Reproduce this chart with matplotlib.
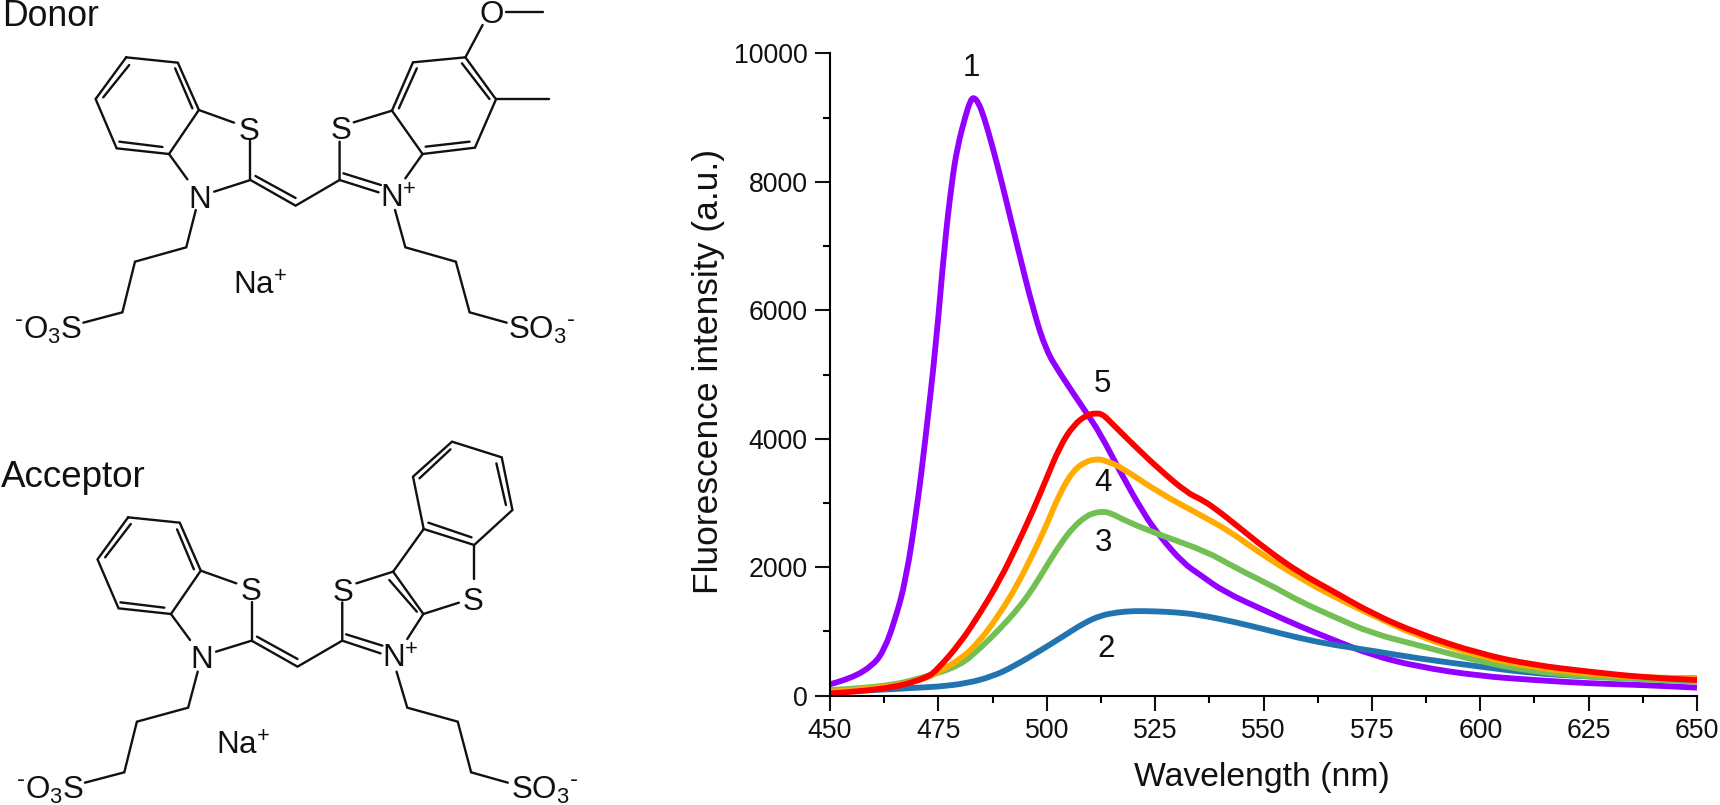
# -*- coding: utf-8 -*-
"""
Fluorescence spectra of the donor/acceptor mixes, with the two dye structures
"""
import numpy as np
import matplotlib
matplotlib.use("Agg")
import matplotlib.pyplot as plt
import matplotlib.ticker as ticker
from matplotlib.path import Path
from matplotlib.patches import PathPatch

plt.rcParams['font.family'] = ['Liberation Sans', 'DejaVu Sans']
plt.rcParams['mathtext.default'] = 'regular'

W, H = 1720, 805
# the structure crops came out squeezed in x
SX, SY = 2.615, 3.0

# spectra: (wavelength, intensity)
wl_1 = [450, 455, 460, 462.5, 465, 467.5, 470, 472, 474.5, 476.4, 478.1, 479.4, 481.2, 482.3, 483.1, 484.2, 485.5,
        487.5, 489.6, 493.2, 496.9, 499.8, 503, 509.2, 512.3, 516.9, 522.3, 526.1, 531.5, 535.4, 540.8, 550,
        558.5, 566.2, 575, 585.5, 600, 612.3, 625, 637.7, 650]
int_1 = [178, 270, 478, 711, 1178, 1800, 2890, 3980, 5500, 7000, 8000, 8545, 9015, 9250, 9320, 9240, 9015,
         8545, 8000, 7000, 6000, 5384, 5020, 4398, 4086, 3490, 2841, 2478, 2062, 1881, 1620, 1334,
         1075, 867, 633, 452, 306, 244, 192, 166, 125]

wl_2 = [450, 460, 470, 475, 481.5, 487.3, 492.3, 500, 504.6, 508.5, 512.3, 516.2, 520, 524.8, 530, 535.4,
        543, 550, 558.5, 566.2, 575, 585.5, 600, 612.3, 625, 637.7, 650]
int_2 = [60, 85, 125, 140, 192, 296, 452, 763, 960, 1127, 1246, 1298, 1319, 1314, 1298, 1256,
         1153, 1038, 893, 789, 701, 582, 452, 348, 296, 270, 270]

wl_3 = [450, 462.3, 472.3, 480, 484.6, 489.2, 493.8, 496.9, 499.8, 503, 506.2, 509.2, 511, 512.7, 514.6, 518.5, 526.1,
        536.9, 543, 553, 558.5, 566.2, 575, 585.5, 600, 612.3, 625, 637.7, 650]
int_3 = [88, 130, 296, 470, 735, 1040, 1386, 1680, 2000, 2347, 2632, 2799, 2845, 2865, 2850, 2711, 2503,
         2244, 2010, 1673, 1464, 1230, 971, 789, 530, 374, 296, 254, 218]

wl_4 = [450, 462.3, 472.3, 475, 480, 484.6, 489.2, 493, 496.9, 499.8, 503, 506.2, 509.2, 511, 512.3, 514, 516.9, 526.1,
        535.4, 542.3, 549.2, 558.5, 566.2, 575, 585.5, 600, 612.3, 625, 637.7, 650]
int_4 = [62, 114, 270, 374, 560, 850, 1282, 1698, 2217, 2632, 3152, 3515, 3650, 3675, 3680, 3645, 3567, 3152,
         2815, 2555, 2218, 1828, 1542, 1256, 930, 607, 441, 337, 286, 270]

wl_5 = [450, 462.3, 472.3, 475, 480, 484.6, 489.2, 493, 496.9, 499.8, 503, 506.2, 509.2, 511.5, 513, 514.6, 520, 526.1,
        532.3, 535.5, 538.5, 544.6, 550.8, 558.5, 566.2, 575, 585.5, 600, 612.3, 625, 637.7, 650]
int_5 = [36, 88, 270, 426, 815, 1282, 1802, 2321, 2892, 3359, 3878, 4216, 4370, 4400, 4375, 4268, 3905, 3515,
         3163, 3060, 2934, 2607, 2270, 1905, 1620, 1282, 971, 649, 478, 374, 286, 244]

curve_labels = ['1', '5', '4', '3', '2']
label_x = [482.7, 512.9, 513, 513, 513.6]
label_y = [9770, 4857, 3310, 2380, 730]

x_ticks = [450, 475, 500, 525, 550, 575, 600, 625, 650]
y_ticks = [0, 2000, 4000, 6000, 8000, 10000]

# donor bonds, as polylines in the crop's coords
donor_bonds = [
    [(330,172),(465,188),(520,330),(442,462),(305,445),(250,297),(330,172)],
    [(338,195),(270,292)], [(458,205),(503,325)], [(312,425),(425,441)],
    [(520,330),(612,368)], [(655,420),(655,540)], [(442,462),(490,538)],
    [(560,575),(655,540),(773,617),(888,540),(888,425)], [(668,528),(773,594)],
    [(925,367),(1025,332)], [(888,540),(990,577)], [(898,520),(996,555)],
    [(1060,535),(1105,462)],
    [(1025,332),(1080,187),(1217,172),(1297,298),(1242,443),(1105,462),(1025,332)],
    [(1043,325),(1090,205)], [(1208,190),(1280,297)], [(1113,440),(1228,425)],
    [(1217,172),(1262,75)], [(1322,35),(1420,35)], [(1297,298),(1435,298)],
    [(512,630),(487,742),(353,785),(320,937),(218,968)],
    [(1033,630),(1060,742),(1192,785),(1228,937),(1325,968)],
]
# acceptor bonds, same idea
acceptor_bonds = [
    [(335,232),(470,248),(525,392),(447,522),(310,505),(255,358),(335,232)],
    [(342,252),(275,352)], [(463,268),(507,388)], [(315,487),(430,503)],
    [(525,392),(618,430)], [(658,485),(658,602)], [(447,522),(497,600)],
    [(565,635),(658,602),(778,680),(895,602),(895,487)], [(672,590),(778,657)],
    [(932,430),(1028,395)], [(895,602),(995,640)], [(905,583),(1000,617)],
    [(1065,597),(1107,522),(1028,395)], [(1018,420),(1090,515)],
    [(1107,522),(1200,488)], [(1240,418),(1240,315)], [(1028,395),(1108,267)],
    [(1108,267),(1240,315),(1340,210),(1312,52),(1182,5),(1080,110),(1108,267)],
    [(1120,248),(1233,292)], [(1323,195),(1298,70)], [(1178,28),(1097,115)],
    [(517,695),(492,803),(358,845),(325,997),(222,1028)],
    [(1037,695),(1065,803),(1197,845),(1232,997),(1328,1028)],
]

# atom text: (text, x, y) in the same coords
MINUS_UP = r'$^{\text{-}}$'
donor_atoms = [('S',652,387), ('N',522,592), ('S',892,385), ('N$^{+}$',1042,590), ('O',1287,37),
               ('Na$^{+}$',680,850), (MINUS_UP+'O$_{3}$S',125,982), ('SO$_{3}$'+MINUS_UP,1418,982)]
acceptor_atoms = [('S',657,448), ('N',527,652), ('S',897,450), ('N$^{+}$',1048,650), ('S',1238,478),
                  ('Na$^{+}$',635,910), (MINUS_UP+'O$_{3}$S',130,1042), ('SO$_{3}$'+MINUS_UP,1424,1042)]

fig = plt.figure(figsize=(W/100, H/100), dpi=100)

# overlay in picture pixels for the structures
ov = fig.add_axes([0, 0, 1, 1])
ov.set_xlim(0, W)
ov.set_ylim(H, 0)
ov.axis('off')

def draw_mol(bonds, atoms, y0):
    for b in bonds:
        b = np.array(b, dtype=float)
        ov.plot(b[:,0]/SX, b[:,1]/SY + y0, color='#111111', lw=1.7, solid_joinstyle='miter', solid_capstyle='round')
    for t, x, y in atoms:
        ov.text(x/SX, y/SY + y0 + 3, t, ha='center', va='center', fontsize=22.5, color='#111111')

draw_mol(donor_bonds, donor_atoms, 0)
draw_mol(acceptor_bonds, acceptor_atoms, 440)
ov.text(2, 26, 'Donor', ha='left', va='baseline', fontsize=25.7, color='#111111')
ov.text(1, 487, 'Acceptor', ha='left', va='baseline', fontsize=26.5, color='#111111')

# spectra
ax = fig.add_axes([830/W, (H-695.7)/H, 867/W, 642.4/H])
ax.patch.set_alpha(0)
lw = 4.2

def spectrum(wl, val, color):
    # read points as bezier control points so the line has no corners
    pts = np.column_stack([wl, val])
    mids = (pts[:-1] + pts[1:]) / 2
    verts = [pts[0]]
    codes = [Path.MOVETO]
    for p, m in zip(pts[1:-1], mids[1:]):
        verts += [p, m]
        codes += [Path.CURVE3, Path.CURVE3]
    verts.append(pts[-1])
    codes.append(Path.LINETO)
    ax.add_patch(PathPatch(Path(verts, codes), fc='none', ec=color, lw=lw, capstyle='butt', clip_on=False))

spectrum(wl_1, int_1, '#9400ff')
spectrum(wl_2, int_2, '#2274b0')
spectrum(wl_3, int_3, '#72bf53')
spectrum(wl_4, int_4, '#ffab00')
spectrum(wl_5, int_5, '#ff0000')

for t, x, y in zip(curve_labels, label_x, label_y):
    ax.text(x, y, t, ha='center', va='center', fontsize=22.5, color='#111111')

ax.set_xlim(450, 650)
ax.set_ylim(0, 10000)
ax.set_xticks(x_ticks)
ax.set_yticks(y_ticks)
ax.xaxis.set_minor_locator(ticker.MultipleLocator(12.5))
ax.yaxis.set_minor_locator(ticker.MultipleLocator(1000))
ax.spines['top'].set_visible(False)
ax.spines['right'].set_visible(False)
ax.spines['left'].set_linewidth(1.5)
ax.spines['bottom'].set_linewidth(1.5)
ax.tick_params(axis='both', which='major', length=10.5, width=1.5, labelsize=19.2, colors='#111111')
ax.tick_params(axis='both', which='minor', length=5, width=1.5)
ax.tick_params(axis='x', which='major', pad=5.5)
ax.tick_params(axis='y', which='major', pad=5.5)

ax.set_xlabel('Wavelength (nm)', fontsize=24.3, color='#111111')
ax.set_ylabel('Fluorescence intensity (a.u.)', fontsize=25.5, color='#111111')
ax.xaxis.set_label_coords(0.498, -0.103)
ax.yaxis.set_label_coords(-0.121, 0.505)

fig.savefig('out.png', dpi=100)
